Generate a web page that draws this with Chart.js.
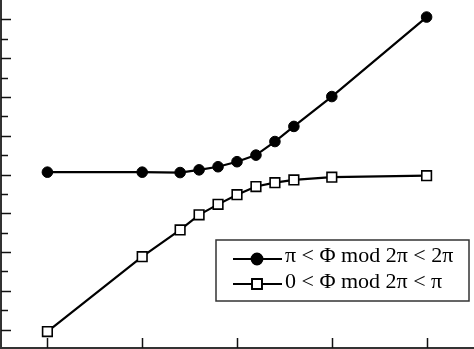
<!DOCTYPE html>
<html>
<head>
<meta charset="utf-8">
<script src="https://cdn.jsdelivr.net/npm/chart.js@4"></script>
<style>
  html, body { margin: 0; padding: 0; background: #fff; }
  #wrap { width: 474px; height: 349px; }
</style>
</head>
<body>
<div id="wrap"><canvas id="phase"></canvas></div>
<script>
// x positions shared by both series
const xs = [0, 1, 1.4, 1.6, 1.8, 2.0, 2.2, 2.4, 2.6, 3, 4];
const upperVals = [4.06, 4.06, 4.05, 4.12, 4.20, 4.33, 4.50, 4.85, 5.24, 6.01, 8.06];
const lowerVals = [-0.05, 1.88, 2.57, 2.96, 3.23, 3.48, 3.69, 3.79, 3.86, 3.93, 3.97];
const labels = ['\u03c0 < \u03a6 mod 2\u03c0 < 2\u03c0', '0 < \u03a6 mod 2\u03c0 < \u03c0'];
const xTicks = [0, 1, 2, 3, 4];
const yTicks = [0, 0.5, 1, 1.5, 2, 2.5, 3, 3.5, 4, 4.5, 5, 5.5, 6, 6.5, 7, 7.5, 8];

const pts = (vals) => xs.map((x, i) => ({ x: x, y: vals[i] }));

// axis lines with inward tick marks
const axesPlugin = {
  id: 'axes',
  afterDraw(chart) {
    const ctx = chart.ctx;
    const sx = chart.scales.x, sy = chart.scales.y;
    const left = 1, bottom = 348;
    ctx.save();
    ctx.strokeStyle = '#333';
    ctx.lineWidth = 2;
    ctx.beginPath();
    ctx.moveTo(left, 0);
    ctx.lineTo(left, bottom);
    ctx.lineTo(chart.width, bottom);
    ctx.stroke();
    ctx.strokeStyle = '#111';
    ctx.lineWidth = 1.5;
    yTicks.forEach(v => {
      const y = Math.round(sy.getPixelForValue(v)) + 0.5;
      const len = Number.isInteger(v) ? 10 : 7;
      ctx.beginPath();
      ctx.moveTo(left, y);
      ctx.lineTo(left + len, y);
      ctx.stroke();
    });
    xTicks.forEach(v => {
      const x = Math.round(sx.getPixelForValue(v)) + 0.5;
      ctx.beginPath();
      ctx.moveTo(x, bottom);
      ctx.lineTo(x, bottom - 10);
      ctx.stroke();
    });
    ctx.restore();
  }
};

// boxed legend with line + marker samples
const legendPlugin = {
  id: 'boxLegend',
  afterDraw(chart) {
    const ctx = chart.ctx;
    const bx = 216, by = 240, bw = 253, bh = 61;
    ctx.save();
    ctx.fillStyle = '#fff';
    ctx.fillRect(bx, by, bw, bh);
    ctx.strokeStyle = '#333';
    ctx.lineWidth = 1.5;
    ctx.strokeRect(bx, by, bw, bh);
    chart.data.datasets.forEach((ds, i) => {
      const y = 259 + i * 25;
      ctx.strokeStyle = ds.borderColor;
      ctx.lineWidth = ds.borderWidth;
      ctx.beginPath();
      ctx.moveTo(233, y);
      ctx.lineTo(282, y);
      ctx.stroke();
      Chart.helpers.drawPoint(ctx, {
        pointStyle: ds.pointStyle,
        radius: ds.pointRadius,
        borderWidth: ds.pointBorderWidth,
        rotation: 0
      }, 257, y);
      ctx.fillStyle = ds.pointBackgroundColor;
      ctx.strokeStyle = ds.pointBorderColor;
      ctx.lineWidth = ds.pointBorderWidth;
      ctx.fill();
      ctx.stroke();
      ctx.fillStyle = '#000';
      ctx.font = '22px "Liberation Serif"';
      ctx.textBaseline = 'alphabetic';
      ctx.fillText(ds.label, 285, 262 + i * 26);
    });
    ctx.restore();
  }
};

new Chart(document.getElementById('phase'), {
  type: 'line',
  data: {
    datasets: [
      {
        label: labels[0],
        data: pts(upperVals),
        borderColor: '#000',
        borderWidth: 2.2,
        pointStyle: 'circle',
        pointRadius: 5.3,
        pointBackgroundColor: '#000',
        pointBorderColor: '#000',
        pointBorderWidth: 1,
        tension: 0
      },
      {
        label: labels[1],
        data: pts(lowerVals),
        borderColor: '#000',
        borderWidth: 2.2,
        pointStyle: 'rect',
        pointRadius: 6.8,
        pointBackgroundColor: '#fff',
        pointBorderColor: '#000',
        pointBorderWidth: 1.6,
        tension: 0
      }
    ]
  },
  options: {
    responsive: true,
    maintainAspectRatio: false,
    animation: false,
    layout: { padding: 0, autoPadding: false },
    clip: false,
    plugins: {
      legend: { display: false },
      tooltip: { enabled: false }
    },
    scales: {
      x: { type: 'linear', min: -0.5, max: 4.5, display: false },
      y: { type: 'linear', min: -0.5, max: 8.5, display: false }
    }
  },
  plugins: [axesPlugin, legendPlugin]
});
</script>
</body>
</html>
